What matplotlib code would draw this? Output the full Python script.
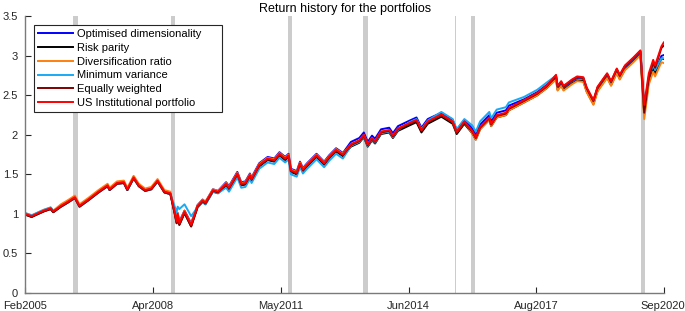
import matplotlib
matplotlib.use("Agg")
import matplotlib.pyplot as plt
import matplotlib.dates as mdates
import matplotlib.transforms as mtransforms
import numpy as np

plt.rcParams['font.family'] = 'Liberation Sans'
plt.rcParams['font.size'] = 8

# sample dates
dates = ['2005-02-15', '2005-04-15', '2005-06-15', '2005-08-01', '2005-10-01',
         '2005-10-25', '2006-01-01', '2006-03-01', '2006-05-05', '2006-06-15',
         '2006-09-01', '2006-12-01', '2007-02-20', '2007-03-10', '2007-05-15',
         '2007-07-15', '2007-08-15', '2007-10-10', '2007-11-25', '2008-01-20',
         '2008-03-15', '2008-05-10', '2008-07-10', '2008-09-01', '2008-10-10',
         '2008-10-27', '2008-11-05', '2008-11-20', '2009-01-05', '2009-03-05',
         '2009-05-01', '2009-06-15', '2009-07-10', '2009-09-15', '2009-10-30',
         '2010-01-10', '2010-02-05', '2010-04-20', '2010-05-25', '2010-07-01',
         '2010-08-10', '2010-08-25', '2010-11-01', '2011-01-15', '2011-03-15',
         '2011-04-30', '2011-06-20', '2011-07-20', '2011-08-10', '2011-10-01',
         '2011-10-30', '2011-11-25', '2012-01-01', '2012-03-25', '2012-06-01',
         '2012-07-15', '2012-09-15', '2012-11-15', '2013-01-25', '2013-04-10',
         '2013-05-20', '2013-06-24', '2013-08-01', '2013-08-28', '2013-10-20',
         '2014-01-01', '2014-02-03', '2014-03-20', '2014-07-01', '2014-09-01',
         '2014-10-15', '2014-12-10', '2015-04-10', '2015-07-20', '2015-08-25',
         '2015-11-01', '2016-01-10', '2016-02-11', '2016-03-20', '2016-06-10',
         '2016-06-27', '2016-08-15', '2016-11-05', '2016-12-01', '2017-04-15',
         '2017-08-10', '2017-11-01', '2018-01-25', '2018-02-08', '2018-03-12',
         '2018-04-02', '2018-06-15', '2018-08-01', '2018-09-25', '2018-10-25',
         '2018-12-24', '2019-01-30', '2019-04-25', '2019-05-30', '2019-07-20',
         '2019-08-15', '2019-10-01', '2019-12-15', '2020-02-15', '2020-03-20',
         '2020-04-30', '2020-06-08', '2020-06-25', '2020-08-20', '2020-09-10']

optimised = [1.00, 0.97, 1.01, 1.04, 1.07, 1.03, 1.10, 1.15, 1.21, 1.10,
             1.18, 1.28, 1.36, 1.31, 1.40, 1.41, 1.31, 1.47, 1.37, 1.30,
             1.32, 1.42, 1.28, 1.26, 1.03, 0.92, 1.01, 0.90, 1.04, 0.88,
             1.11, 1.18, 1.15, 1.31, 1.29, 1.40, 1.35, 1.53, 1.40, 1.41,
             1.51, 1.46, 1.64, 1.72, 1.70, 1.78, 1.72, 1.76, 1.57, 1.54,
             1.66, 1.58, 1.64, 1.76, 1.66, 1.74, 1.83, 1.77, 1.91, 1.96,
             2.03, 1.91, 1.99, 1.95, 2.07, 2.09, 2.02, 2.11, 2.18, 2.22,
             2.09, 2.20, 2.28, 2.19, 2.06, 2.19, 2.08, 2.00, 2.13, 2.25,
             2.17, 2.28, 2.31, 2.37, 2.45, 2.54, 2.63, 2.74, 2.60, 2.66,
             2.60, 2.68, 2.72, 2.71, 2.58, 2.42, 2.59, 2.76, 2.66, 2.82,
             2.74, 2.86, 2.96, 3.05, 2.33, 2.72, 2.86, 2.80, 3.00, 3.01]

risk_parity = [0.99, 0.96, 1.00, 1.03, 1.06, 1.02, 1.09, 1.14, 1.20, 1.09,
               1.17, 1.27, 1.35, 1.30, 1.38, 1.39, 1.30, 1.45, 1.35, 1.29,
               1.31, 1.41, 1.27, 1.25, 1.00, 0.88, 0.98, 0.86, 1.01, 0.84,
               1.08, 1.15, 1.12, 1.28, 1.26, 1.36, 1.31, 1.49, 1.36, 1.37,
               1.47, 1.42, 1.60, 1.68, 1.66, 1.74, 1.68, 1.72, 1.53, 1.50,
               1.62, 1.54, 1.60, 1.72, 1.62, 1.70, 1.79, 1.73, 1.85, 1.90,
               1.97, 1.85, 1.93, 1.89, 2.01, 2.03, 1.96, 2.05, 2.12, 2.16,
               2.03, 2.14, 2.23, 2.14, 2.01, 2.14, 2.02, 1.94, 2.07, 2.19,
               2.11, 2.22, 2.25, 2.31, 2.41, 2.50, 2.59, 2.71, 2.57, 2.63,
               2.57, 2.65, 2.69, 2.68, 2.55, 2.39, 2.56, 2.73, 2.63, 2.79,
               2.71, 2.83, 2.93, 3.02, 2.26, 2.68, 2.84, 2.78, 2.97, 2.96]

div_ratio = [1.01, 0.98, 1.02, 1.05, 1.08, 1.04, 1.12, 1.17, 1.23, 1.12,
             1.20, 1.30, 1.38, 1.33, 1.41, 1.42, 1.33, 1.48, 1.38, 1.32,
             1.34, 1.44, 1.30, 1.28, 1.03, 0.91, 1.01, 0.89, 1.04, 0.87,
             1.11, 1.18, 1.15, 1.31, 1.29, 1.39, 1.34, 1.52, 1.39, 1.40,
             1.50, 1.45, 1.63, 1.71, 1.69, 1.77, 1.71, 1.75, 1.56, 1.53,
             1.65, 1.57, 1.63, 1.75, 1.65, 1.73, 1.82, 1.76, 1.88, 1.93,
             2.00, 1.88, 1.96, 1.92, 2.04, 2.06, 1.99, 2.08, 2.15, 2.19,
             2.06, 2.17, 2.25, 2.16, 2.03, 2.16, 2.02, 1.94, 2.07, 2.19,
             2.11, 2.22, 2.25, 2.31, 2.41, 2.50, 2.59, 2.70, 2.56, 2.62,
             2.56, 2.64, 2.68, 2.67, 2.54, 2.38, 2.55, 2.72, 2.62, 2.78,
             2.70, 2.82, 2.92, 3.01, 2.20, 2.64, 2.80, 2.74, 2.92, 2.91]

min_variance = [1.01, 0.98, 1.02, 1.05, 1.08, 1.04, 1.09, 1.14, 1.20, 1.09,
                1.17, 1.27, 1.35, 1.30, 1.38, 1.39, 1.30, 1.45, 1.35, 1.29,
                1.31, 1.41, 1.27, 1.25, 1.09, 1.02, 1.09, 1.06, 1.12, 0.97,
                1.08, 1.15, 1.12, 1.28, 1.26, 1.33, 1.28, 1.46, 1.33, 1.34,
                1.44, 1.39, 1.57, 1.65, 1.63, 1.71, 1.65, 1.69, 1.50, 1.47,
                1.59, 1.51, 1.57, 1.69, 1.59, 1.67, 1.76, 1.70, 1.86, 1.91,
                1.98, 1.86, 1.94, 1.90, 2.02, 2.04, 1.97, 2.06, 2.16, 2.20,
                2.07, 2.18, 2.29, 2.20, 2.07, 2.20, 2.12, 2.04, 2.17, 2.29,
                2.21, 2.32, 2.35, 2.41, 2.48, 2.57, 2.66, 2.75, 2.61, 2.67,
                2.61, 2.69, 2.73, 2.72, 2.59, 2.43, 2.60, 2.77, 2.67, 2.83,
                2.75, 2.87, 2.97, 3.06, 2.35, 2.74, 2.88, 2.82, 2.97, 2.97]

equal_weight = [0.99, 0.96, 1.00, 1.03, 1.06, 1.02, 1.09, 1.14, 1.20, 1.09,
                1.17, 1.27, 1.35, 1.30, 1.38, 1.39, 1.30, 1.45, 1.35, 1.29,
                1.31, 1.41, 1.27, 1.25, 1.00, 0.88, 0.98, 0.86, 1.01, 0.84,
                1.09, 1.16, 1.13, 1.29, 1.27, 1.37, 1.32, 1.50, 1.37, 1.38,
                1.48, 1.43, 1.61, 1.69, 1.67, 1.75, 1.69, 1.73, 1.54, 1.51,
                1.63, 1.55, 1.61, 1.73, 1.63, 1.71, 1.80, 1.74, 1.87, 1.92,
                1.99, 1.87, 1.95, 1.91, 2.03, 2.05, 1.98, 2.07, 2.14, 2.18,
                2.05, 2.16, 2.25, 2.16, 2.03, 2.16, 2.04, 1.96, 2.09, 2.21,
                2.13, 2.24, 2.27, 2.33, 2.43, 2.52, 2.61, 2.75, 2.61, 2.67,
                2.61, 2.69, 2.73, 2.72, 2.59, 2.43, 2.60, 2.77, 2.67, 2.83,
                2.75, 2.87, 2.97, 3.06, 2.28, 2.72, 2.92, 2.85, 3.10, 3.13]

us_inst = [1.00, 0.97, 1.01, 1.04, 1.07, 1.03, 1.10, 1.15, 1.21, 1.10,
           1.18, 1.28, 1.36, 1.31, 1.39, 1.40, 1.31, 1.46, 1.36, 1.30,
           1.32, 1.42, 1.28, 1.26, 1.02, 0.90, 1.00, 0.88, 1.03, 0.86,
           1.10, 1.17, 1.14, 1.30, 1.28, 1.38, 1.33, 1.51, 1.38, 1.39,
           1.49, 1.44, 1.62, 1.70, 1.68, 1.76, 1.70, 1.74, 1.55, 1.52,
           1.64, 1.56, 1.62, 1.74, 1.64, 1.72, 1.81, 1.75, 1.88, 1.93,
           2.00, 1.88, 1.96, 1.92, 2.04, 2.06, 1.99, 2.08, 2.15, 2.19,
           2.06, 2.17, 2.26, 2.17, 2.04, 2.17, 2.05, 1.97, 2.10, 2.22,
           2.14, 2.25, 2.28, 2.34, 2.44, 2.53, 2.62, 2.76, 2.62, 2.68,
           2.62, 2.70, 2.74, 2.73, 2.60, 2.44, 2.61, 2.78, 2.68, 2.84,
           2.76, 2.88, 2.98, 3.07, 2.38, 2.78, 2.95, 2.88, 3.12, 3.17]

names = ['Optimised dimensionality', 'Risk parity', 'Diversification ratio',
         'Minimum variance', 'Equally weighted', 'US Institutional portfolio']
colors = ['#0000ff', '#000000', '#ff7f0f', '#1aaaf5', '#7f0000', '#ff0000']

# shaded stress periods
stress_start = ['2006-04-20', '2008-09-06', '2011-07-16', '2013-05-17',
                '2015-08-06', '2015-12-27', '2020-02-24']
stress_end = ['2006-05-30', '2008-10-12', '2011-08-19', '2013-06-22',
              '2015-08-22', '2016-02-07', '2020-03-25']

tick_labels = ['Feb2005', 'Apr2008', 'May2011', 'Jun2014', 'Aug2017', 'Sep2020']

x = np.array(dates, dtype='datetime64[D]')
series = [optimised, risk_parity, div_ratio, min_variance, equal_weight, us_inst]

fig = plt.figure(figsize=(6.85, 3.11), dpi=100)
ax = fig.add_axes([0.0365, 0.0588, 0.9333, 0.8884])

for s, e in zip(stress_start, stress_end):
    ax.axvspan(np.datetime64(s), np.datetime64(e), color='#cccccc', lw=0, zorder=0.5)

for vals, name, c in zip(series, names, colors):
    ax.plot(x, vals, color=c, lw=1.4, label=name)

x0 = mdates.date2num(np.datetime64('2005-02-15'))
x1 = mdates.date2num(np.datetime64('2020-09-15'))
ax.set_xlim(x0, x1)
ax.set_xticks(np.linspace(x0, x1, len(tick_labels)))
ax.set_xticklabels(tick_labels)
ax.set_ylim(0, 3.5)
yt = np.arange(0, 3.51, 0.5)
ax.set_yticks(yt)
ax.set_yticklabels(['%g' % v for v in yt])

for sp in ['top', 'right']:
    ax.spines[sp].set_visible(False)
for sp in ['left', 'bottom']:
    ax.spines[sp].set_color('#7a7a7a')
    ax.spines[sp].set_linewidth(1.0)
ax.tick_params(direction='in', length=4.5, width=0.8, color='#262626',
               labelcolor='#262626', labelsize=8)
ax.tick_params(axis='y', pad=5)
ax.tick_params(axis='x', pad=6)

# nudge the edge labels inward a little so they stay on the canvas
lbls = ax.get_xticklabels()
lbls[-1].set_transform(lbls[-1].get_transform() +
                       mtransforms.ScaledTranslation(-2 / 100, 0, fig.dpi_scale_trans))

ax.set_title('Return history for the portfolios', fontsize=9, pad=3, color='#000000')

leg = ax.legend(loc='upper left', bbox_to_anchor=(0.014, 0.970, 0.294, 0), mode='expand',
                borderaxespad=0, fontsize=8, handlelength=3.15, handletextpad=0.35,
                borderpad=0.4, labelspacing=0.34, fancybox=False, framealpha=1,
                edgecolor='#262626')
leg.get_frame().set_linewidth(0.8)

plt.savefig('out.png', dpi=100)
